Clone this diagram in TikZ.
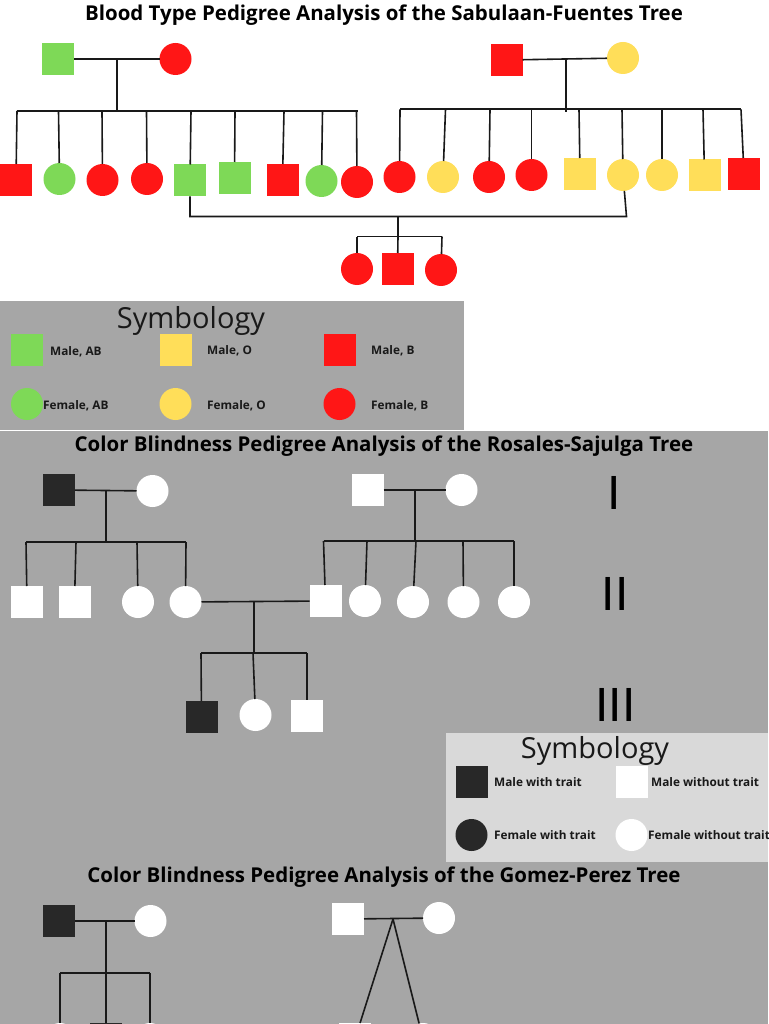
\documentclass[tikz,border=0pt]{standalone}
\usepackage{fontspec}
\setmainfont{Open Sans}
\definecolor{cgreen}{HTML}{7ED957}
\definecolor{cred}{HTML}{FF1616}
\definecolor{cyellow}{HTML}{FFDE59}
\definecolor{cdark}{HTML}{282828}
\definecolor{cpanel}{HTML}{A6A6A6}
\definecolor{clight}{HTML}{D9D9D9}
\tikzset{
  sq/.style={rectangle,minimum size=32pt,inner sep=0pt,outer sep=0pt,draw=none},
  ci/.style={circle,minimum size=32pt,inner sep=0pt,outer sep=0pt,draw=none},
  link/.style={draw=black!90,line width=1.6pt},
  title/.style={font=\bfseries\fontsize{20.45}{22}\selectfont,text=black,inner sep=0pt},
  symb/.style={font=\fontsize{29}{32}\selectfont,text=black!90,inner sep=0pt},
  lab/.style={font=\bfseries\fontsize{11.8}{13}\selectfont,text=black!90,inner sep=0pt,anchor=west},
  roman/.style={font=\fontsize{48}{50}\selectfont,inner sep=0pt,text=black}
}
\newfontfamily\romanfont{Liberation Sans}
\begin{document}
\begin{tikzpicture}[x=1pt,y=-1pt]
\useasboundingbox (0,0) rectangle (768,1024);
\clip (0,0) rectangle (768,1024);
\fill[white] (0,0) rectangle (768,1024);
\fill[cpanel] (0,301) rectangle (464,430);
\fill[cpanel] (0,431) rectangle (768,1024);
\fill[clight] (446,733) rectangle (768,862);
% titles
\node[title] (t1) at (384,15.5) {Blood Type Pedigree Analysis of the Sabulaan-Fuentes Tree};
\node[title] (t2) at (384,446.5) {Color Blindness Pedigree Analysis of the Rosales-Sajulga Tree};
\node[title] (t3) at (384,877.5) {Color Blindness Pedigree Analysis of the Gomez-Perez Tree};
% tree 1 shapes
\foreach \n/\x/\y/\s/\c in {
 a1/58.3/59/sq/cgreen, a2/175.5/59/ci/cred,
 a3/16/180/sq/cred, a4/59.5/179/ci/cgreen, a5/102.5/180/ci/cred, a6/147/179/ci/cred,
 a7/190/180.5/sq/cgreen, a8/234.5/178/sq/cgreen, a9/282.5/180/sq/cred, a10/321.5/181/ci/cgreen, a11/357/182/ci/cred,
 b1/506.5/60/sq/cred, b2/623/58/ci/cyellow,
 b3/399.5/177/ci/cred, b4/443/177/ci/cyellow, b5/489/177/ci/cred, b6/531.5/175/ci/cred,
 b7/580/174/sq/cyellow, b8/623/175/ci/cyellow, b9/662/175/ci/cyellow, b10/704.5/175.5/sq/cyellow, b11/744/174/sq/cred,
 c1/357/269/ci/cred, c2/397.5/269/sq/cred, c3/441/270/ci/cred}
 {\node[\s,fill=\c] (\n) at (\x,\y) {};}
% tree 1 connectors
\coordinate (ja) at (117,59); \coordinate (jaB) at (117,111);
\draw[link] (a1) -- (a2); \draw[link] (ja) -- (jaB);
\coordinate (aL) at (17,111); \coordinate (aR) at (357.5,111);
\draw[link] (aL) -- (aR);
\foreach \n/\x in {a3/17,a4/58.5,a5/102,a6/146.5,a7/191,a8/235,a9/284,a10/322.5,a11/356.5}
 {\coordinate (d\n) at (\x,111); \draw[link] (d\n) -- (\n);}
\coordinate (jb) at (566,59); \coordinate (jbB) at (566,112);
\draw[link] (b1) -- (b2); \draw[link,line width=2pt] (jb) -- (jbB);
\coordinate (bL) at (400,109.5); \coordinate (bR) at (741,109.5);
\draw[link,line width=2pt] (bL) -- (bR);
\foreach \n/\x in {b3/400,b4/445.5,b5/490,b6/531.5,b7/579,b8/622,b9/662,b10/703,b11/741}
 {\coordinate (d\n) at (\x,109.5); \draw[link] (d\n) -- (\n);}
\coordinate (mL) at (190,216.5); \coordinate (mR) at (626.5,216.5);
\draw[link] (a7) -- (mL) -- (mR) -- (b8);
\coordinate (jm) at (398,216.5); \coordinate (jmB) at (398,236.5);
\draw[link] (jm) -- (jmB);
\coordinate (cL) at (357,236.5); \coordinate (cR) at (442,236.5);
\draw[link] (cL) -- (cR);
\foreach \n/\x in {c1/357,c2/398,c3/442}
 {\coordinate (d\n) at (\x,236.5); \draw[link] (d\n) -- (\n);}
% legend 1
\node[symb] (s1) at (191,320.5) {Symbology};
\foreach \n/\x/\y/\s/\c in {
 k1/27/350/sq/cgreen, k2/175.5/350/sq/cyellow, k3/339.5/350/sq/cred,
 k4/27/404/ci/cgreen, k5/175.5/404/ci/cyellow, k6/339.5/404/ci/cred}
 {\node[\s,fill=\c] (\n) at (\x,\y) {};}
\node[lab] (l1) at (50,352) {Male, AB};
\node[lab] (l2) at (207,351) {Male, O};
\node[lab] (l3) at (371,351) {Male, B};
\node[lab] (l4) at (43,405.5) {Female, AB};
\node[lab] (l5) at (207,405.5) {Female, O};
\node[lab] (l6) at (371,405.5) {Female, B};
% tree 2 shapes
\foreach \n/\x/\y/\s/\c in {
 e1/59/490/sq/cdark, e2/152.5/491/ci/white,
 e3/27/602/sq/white, e4/74.5/602/sq/white, e5/138/602/ci/white, e6/185.5/602/ci/white,
 f1/367.5/490/sq/white, f2/461.5/490/ci/white,
 f3/325.5/601/sq/white, f4/365/601/ci/white, f5/413/602/ci/white, f6/463.5/602/ci/white, f7/514/602/ci/white,
 g1/201.5/717/sq/cdark, g2/255.5/715/ci/white, g3/307/715.5/sq/white}
 {\node[\s,fill=\c] (\n) at (\x,\y) {};}
\draw[link] (e1) -- (e2);
\coordinate (je) at (106,490.5); \coordinate (jeB) at (106,542);
\draw[link] (je) -- (jeB);
\coordinate (eL) at (26,542); \coordinate (eR) at (186,542);
\draw[link] (eL) -- (eR);
\foreach \n/\x in {e3/26,e4/76,e5/137,e6/186}
 {\coordinate (d\n) at (\x,542); \draw[link] (d\n) -- (\n);}
\draw[link] (f1) -- (f2);
\coordinate (jf) at (414.5,490); \coordinate (jfB) at (414.5,541);
\draw[link,line width=2pt] (jf) -- (jfB);
\coordinate (fL) at (323.5,541); \coordinate (fR) at (514,541);
\draw[link] (fL) -- (fR);
\foreach \n/\x in {f3/323.5,f4/367,f5/416,f6/463,f7/514}
 {\coordinate (d\n) at (\x,541); \draw[link] (d\n) -- (\n);}
\draw[link] (e6) -- (f3);
\coordinate (jg) at (254,601.5); \coordinate (jgB) at (254,653);
\draw[link] (jg) -- (jgB);
\coordinate (gL) at (201,653); \coordinate (gR) at (307,653);
\draw[link] (gL) -- (gR);
\foreach \n/\x in {g1/201,g2/253,g3/307}
 {\coordinate (d\n) at (\x,653); \draw[link] (d\n) -- (\n);}
% generation numerals
\node[roman] (r1) at (614.5,492.5) {\romanfont I};
\node[roman] (r2) at (615.5,594) {\romanfont I\kern1pt I};
\node[roman] (r3) at (615.5,704.5) {\romanfont I\kern-0.2pt I\kern-0.2pt I};
% legend 2
\node[symb] (s2) at (595,750.5) {Symbology};
\foreach \n/\x/\y/\s/\c in {
 q1/471.5/782/sq/cdark, q2/631.5/782/sq/white,
 q3/471.5/835/ci/cdark, q4/631.5/835/ci/white}
 {\node[\s,fill=\c] (\n) at (\x,\y) {};}
\node[lab] (m1) at (494,782.5) {Male with trait};
\node[lab] (m2) at (651,782.5) {Male without trait};
\node[lab] (m3) at (494,835.5) {Female with trait};
\node[lab] (m4) at (648,835.5) {Female without trait};
% tree 3
\foreach \n/\x/\y/\s/\c in {
 h1/59/921/sq/cdark, h2/150.5/921/ci/white,
 h3/60/1039/ci/white, h4/106/1039/sq/cdark, h5/150/1039/ci/white,
 i1/348/919/sq/white, i2/439/918/ci/white,
 i3/355/1039/sq/white, i4/423/1039/ci/white}
 {\node[\s,fill=\c] (\n) at (\x,\y) {};}
\draw[link] (h1) -- (h2);
\coordinate (jh) at (106,921); \draw[link] (jh) -- (h4);
\coordinate (hL) at (60,973); \coordinate (hR) at (150,973);
\draw[link] (hL) -- (hR);
\draw[link] (hL) -- (h3); \draw[link] (hR) -- (h5);
\draw[link] (i1) -- (i2);
\coordinate (ji) at (393,919);
\draw[link] (ji) -- (i3); \draw[link] (ji) -- (i4);
\end{tikzpicture}
\end{document}
